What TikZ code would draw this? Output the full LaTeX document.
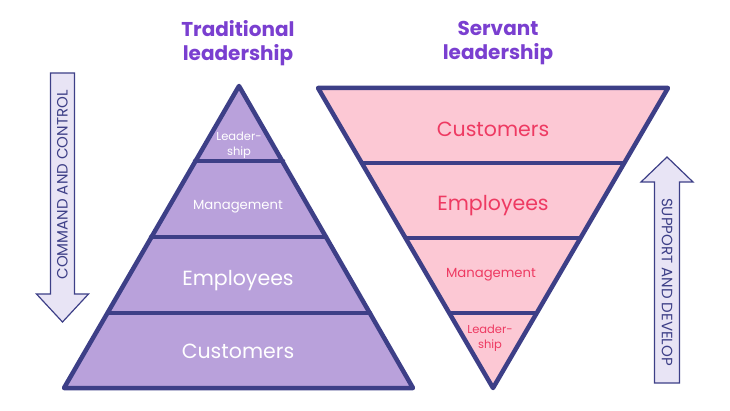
\documentclass[tikz,border=0pt]{standalone}
\usepackage{fontspec}
\setmainfont{Poppins}
\definecolor{navy}{HTML}{3D3F87}
\definecolor{lav}{HTML}{B9A1DB}
\definecolor{pinkfill}{HTML}{FCC8D4}
\definecolor{pinktext}{HTML}{EE3A62}
\definecolor{titlecol}{HTML}{7A3FD0}
\definecolor{arrowfill}{HTML}{E8E4F5}
\tikzset{
  band/.style={line width=4.5pt, draw=navy, line join=round, line cap=round},
  title/.style={font=\fontsize{20}{24}\selectfont\bfseries, text=titlecol, align=center},
  lbig/.style={font=\fontsize{20.5}{22}\selectfont, text=white},
  lmid/.style={font=\fontsize{13.2}{15}\selectfont, text=white},
  lsmall/.style={font=\fontsize{11.5}{14.5}\selectfont, text=white, align=center},
  rbig/.style={font=\fontsize{20.5}{22}\selectfont, text=pinktext},
  rmid/.style={font=\fontsize{13.2}{15}\selectfont, text=pinktext},
  rsmall/.style={font=\fontsize{11.5}{14.5}\selectfont, text=pinktext, align=center},
  bigarrow/.style={draw=navy, fill=arrowfill, line width=1.2pt, line join=miter},
  arrowtext/.style={font=\fontsize{15}{16}\selectfont, text=navy},
}
\begin{document}
\begin{tikzpicture}[x=1pt,y=-1pt]
\useasboundingbox (0,0) rectangle (730,411);
% left pyramid
\fill[lav] (239,86) -- (413,388) -- (64,388) -- cycle;
\draw[band] (239,86) -- (413,388) -- (64,388) -- cycle;
\draw[band] (195,161) -- (283,161);
\draw[band] (151,237) -- (326,237);
\draw[band] (108,313) -- (370,313);
% right inverted pyramid
\fill[pinkfill] (318,88) -- (668,88) -- (493,388) -- cycle;
\draw[band] (318,88) -- (668,88) -- (493,388) -- cycle;
\draw[band] (362,163) -- (624,163);
\draw[band] (406,238) -- (580,238);
\draw[band] (450,313) -- (536,313);
% titles
\node[title] (t1) at (238,43) {Traditional\\leadership};
\node[title] (t2) at (498,43) {Servant\\leadership};
% left labels
\node[lsmall] (l1) at (239,145) {Leader-\\ship};
\node[lmid] (l2) at (238,207) {Management};
\node[lbig] (l3) at (238,281) {Employees};
\node[lbig] (l4) at (238,351) {Customers};
% right labels
\node[rbig] (r1) at (493,129) {Customers};
\node[rbig] (r2) at (493,206) {Employees};
\node[rmid] (r3) at (491,275) {Management};
\node[rsmall] (r4) at (490,338) {Leader-\\ship};
% arrows
\draw[bigarrow] (50.5,73) -- (74.5,73) -- (74.5,294) -- (88.5,294) -- (62.5,322) -- (36.5,294) -- (50.5,294) -- cycle;
\node[arrowtext, rotate=90] (a1) at (62.5,185) {COMMAND AND CONTROL};
\draw[bigarrow] (654.5,383) -- (679.5,383) -- (679.5,182) -- (693,182) -- (667,157) -- (641,182) -- (654.5,182) -- cycle;
\node[arrowtext, rotate=-90] (a2) at (667,282) {SUPPORT AND DEVELOP};
\end{tikzpicture}
\end{document}
